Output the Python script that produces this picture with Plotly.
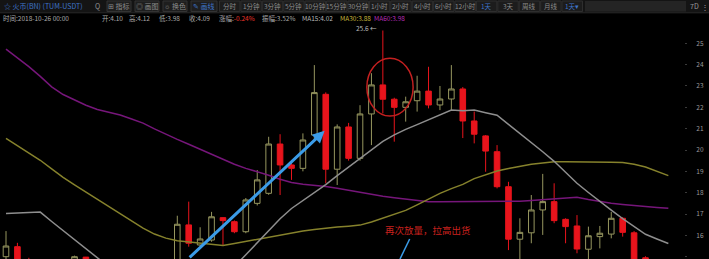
import plotly.graph_objects as go

# ---------------- data ----------------
idx = list(range(59))
opens = [15.0, 15.47, 14.6, 14.3, 14.0, 13.9, 14.1, 14.98, 14.3, 13.9,
         13.6, 13.8, 14.1, 13.9, 14.2, 14.5, 16.49, 15.55, 15.78, 16.83,
         16.64, 16.17, 17.5, 17.97, 20.28, 19.3, 19.14, 20.7, 22.61, 19.1,
         21.08, 19.61, 21.69, 23.05, 22.38, 22.0, 22.31, 22.76, 22.11, 22.39,
         22.86, 21.36, 20.66, 19.92, 18.28, 15.82, 16.12, 17.19, 17.58, 16.75,
         16.44, 15.35, 15.94, 16.06, 16.8, 16.12, 14.95, 14.4, 14.1]
highs = [16.2, 15.65, 14.95, 14.6, 14.4, 14.3, 15.05, 14.99, 14.6, 14.2,
         14.0, 14.3, 14.5, 14.4, 14.7, 16.92, 17.58, 16.38, 17.1, 16.85,
         16.7, 17.75, 19.06, 20.62, 20.74, 19.53, 20.78, 23.98, 22.7, 21.2,
         21.27, 22.1, 23.6, 25.6, 22.45, 22.5, 23.48, 23.9, 23.0, 23.98,
         22.95, 21.8, 20.7, 20.23, 18.51, 16.8, 17.89, 18.88, 18.44, 16.8,
         16.95, 16.41, 16.44, 17.1, 16.85, 16.2, 15.02, 14.8, 14.5]
lows = [14.7, 14.2, 14.1, 13.8, 13.6, 13.5, 14.0, 14.2, 13.7, 13.4,
        13.2, 13.5, 13.7, 13.6, 14.0, 14.3, 15.47, 15.5, 15.7, 15.55,
        16.1, 16.1, 17.4, 17.9, 17.89, 18.6, 19.0, 20.5, 18.44, 18.36,
        19.5, 19.5, 20.23, 21.72, 20.39, 21.33, 21.8, 21.95, 21.87, 21.87,
        20.56, 20.31, 18.98, 18.2, 15.31, 14.6, 15.63, 16.02, 16.57, 15.63,
        15.16, 14.7, 15.39, 15.86, 15.94, 14.3, 14.2, 13.9, 13.7]
closes = [15.5, 14.4, 14.3, 14.0, 13.9, 14.1, 15.0, 14.3, 13.9, 13.6,
          13.8, 14.1, 13.9, 14.2, 14.5, 16.52, 15.63, 15.83, 16.87, 16.69,
          16.17, 17.66, 18.6, 20.28, 19.3, 19.14, 20.47, 22.69, 19.1, 21.08,
          19.61, 21.69, 23.05, 22.38, 22.0, 22.26, 22.76, 22.11, 22.39, 22.86,
          21.36, 20.74, 19.95, 18.28, 15.82, 16.14, 17.19, 17.58, 16.69, 16.41,
          15.36, 15.98, 16.1, 16.8, 16.14, 14.6, 14.4, 14.1, 14.3]

ma15 = [17.03, 17.05, 17.07, 17.09, 16.65, 16.22, 15.78, 15.35, 14.92, 14.5,
        14.1, 13.8, 13.6, 13.45, 13.4, 13.4, 13.5, 13.7, 13.95, 14.2,
        14.54, 15.09, 15.66, 16.22, 16.78, 17.26, 17.63, 18.0, 18.38, 18.8,
        19.2, 19.58, 20.0, 20.4, 20.71, 20.97, 21.19, 21.42, 21.66, 21.87,
        21.84, 21.87, 21.75, 21.63, 21.2, 20.78, 20.35, 19.92, 19.47, 18.94,
        18.44, 18.01, 17.58, 17.18, 16.78, 16.41, 16.05, 15.83, 15.62]
ma30 = [20.55, 20.21, 19.86, 19.52, 19.12, 18.72, 18.37, 18.03, 17.69, 17.36,
        17.03, 16.68, 16.34, 16.06, 15.87, 15.75, 15.69, 15.63, 15.55, 15.52,
        15.62, 15.72, 15.8, 15.91, 16.03, 16.13, 16.2, 16.27, 16.34, 16.39,
        16.43, 16.48, 16.63, 16.81, 16.98, 17.17, 17.43, 17.7, 17.97, 18.19,
        18.39, 18.66, 18.85, 19.02, 19.13, 19.24, 19.33, 19.39, 19.45, 19.45,
        19.45, 19.45, 19.45, 19.43, 19.41, 19.33, 19.2, 19.0, 18.8]
ma60 = [24.73, 24.32, 23.91, 23.45, 22.96, 22.6, 22.34, 22.1, 21.9, 21.77,
        21.64, 21.45, 21.26, 20.99, 20.73, 20.5, 20.27, 20.04, 19.8, 19.56,
        19.33, 19.14, 18.99, 18.82, 18.63, 18.48, 18.39, 18.35, 18.29, 18.21,
        18.11, 18.0, 17.91, 17.83, 17.76, 17.69, 17.64, 17.58, 17.58, 17.58,
        17.58, 17.58, 17.58, 17.58, 17.58, 17.6, 17.63, 17.66, 17.7, 17.74,
        17.78, 17.68, 17.58, 17.51, 17.45, 17.39, 17.35, 17.31, 17.27]

y_ticks = [15, 16, 17, 18, 19, 20, 21, 22, 23, 24, 25]

toolbar_tools = ["Q", "⊞ 指标", "◎ 画图", "☼ 换色", "✎ 画线"]
periods = ["分时", "1分钟", "3分钟", "5分钟", "10分钟", "15分钟", "30分钟", "1小时",
           "2小时", "4小时", "6小时", "12小时", "1天", "3天", "周线", "月线", "1天▾"]
selected_periods = ["1天", "1天▾"]

info_items = [
    ("时间:2018-10-26 00:00", "#a8a8a8"),
    ("开:4.10", "#a8a8a8"),
    ("高:4.12", "#a8a8a8"),
    ("低:3.98", "#a8a8a8"),
    ("收:4.09", "#a8a8a8"),
    ("涨幅:<span style='color:#e8342a'>-0.24%</span>", "#a8a8a8"),
    ("振幅:3.52%", "#a8a8a8"),
    ("MA15:4.02", "#b8b8b8"),
    ("MA30:3.88", "#c8b43a"),
    ("MA60:3.98", "#b62cb6"),
]
info_x = [1, 100, 127, 157, 187, 217, 260, 300, 338, 372]

# ---------------- layout helpers ----------------
W, H = 709, 259
ML, MR, MT, MB = 0, 25, 24, 0
PW, PH = W - ML - MR, H - MT - MB
FONT = "Noto Sans CJK SC, Noto Sans, sans-serif"


def px(xp):
    return (xp - ML) / PW


def py(yp):
    return (H - MB - yp) / PH


fig = go.Figure()

fig.add_trace(go.Candlestick(
    x=idx, open=opens, high=highs, low=lows, close=closes,
    increasing=dict(line=dict(color="#96965f", width=1), fillcolor="#000000"),
    decreasing=dict(line=dict(color="#e8141c", width=1), fillcolor="#e8141c"),
    whiskerwidth=0, hoverinfo="skip", showlegend=False,
))

for vals, col in [(ma60, "#76167a"), (ma30, "#86822c"), (ma15, "#8e8e8e")]:
    fig.add_trace(go.Scatter(x=idx, y=vals, mode="lines",
                             line=dict(color=col, width=1.5),
                             hoverinfo="skip", showlegend=False))

shapes = []
annotations = []

# toolbar background
shapes.append(dict(type="rect", xref="paper", yref="paper",
                   x0=px(0), x1=px(W), y0=py(12.5), y1=py(0),
                   fillcolor="#141414", line=dict(width=0), layer="above"))
shapes.append(dict(type="line", xref="paper", yref="paper",
                   x0=px(0), x1=px(W), y0=py(12.8), y1=py(12.8),
                   line=dict(color="#2a2a2a", width=1), layer="above"))

annotations.append(dict(xref="paper", yref="paper", x=px(2), y=py(6),
                        xanchor="left", yanchor="middle", showarrow=False,
                        text="☆ 火币(BN) (TUM-USDT)",
                        font=dict(family=FONT, size=7, color="#3f74c8")))
tool_x = [(93, 102), (107, 131), (135, 159), (163, 187), (191, 217)]
for (a, b), t in zip(tool_x, toolbar_tools):
    if t != "Q":
        shapes.append(dict(type="rect", xref="paper", yref="paper",
                           x0=px(a), x1=px(b), y0=py(11.5), y1=py(1),
                           fillcolor="#1e1e1e", line=dict(color="#333333", width=1),
                           layer="above"))
    col = "#3f74c8" if t.startswith("✎") else "#8c8c8c"
    annotations.append(dict(xref="paper", yref="paper", x=px((a + b) / 2), y=py(6.2),
                            xanchor="center", yanchor="middle", showarrow=False,
                            text=t, font=dict(family=FONT, size=7, color=col)))

p0, p1 = 219, 583
step = (p1 - p0) / len(periods)
for k, t in enumerate(periods):
    a = p0 + k * step
    shapes.append(dict(type="rect", xref="paper", yref="paper",
                       x0=px(a + 0.5), x1=px(a + step - 0.5), y0=py(11.5), y1=py(1),
                       fillcolor="#1c1c1c", line=dict(color="#2e2e2e", width=1),
                       layer="above"))
    col = "#3f74c8" if t in selected_periods else "#8c8c8c"
    annotations.append(dict(xref="paper", yref="paper", x=px(a + step / 2), y=py(6.2),
                            xanchor="center", yanchor="middle", showarrow=False,
                            text=t, font=dict(family=FONT, size=6.5, color=col)))

shapes.append(dict(type="rect", xref="paper", yref="paper",
                   x0=px(585), x1=px(686), y0=py(11.5), y1=py(1),
                   fillcolor="#242424", line=dict(width=0), layer="above"))
annotations.append(dict(xref="paper", yref="paper", x=px(694), y=py(6.2),
                        xanchor="center", yanchor="middle", showarrow=False,
                        text="7D", font=dict(family=FONT, size=7, color="#9a9a9a")))
annotations.append(dict(xref="paper", yref="paper", x=px(705), y=py(6.2),
                        xanchor="center", yanchor="middle", showarrow=False,
                        text="⋮", font=dict(family=FONT, size=8, color="#9a9a9a")))

for xl, (t, col) in zip(info_x, info_items):
    annotations.append(dict(xref="paper", yref="paper", x=px(xl), y=py(17.8),
                            xanchor="left", yanchor="middle", showarrow=False,
                            text=t, font=dict(family=FONT, size=6.5, color=col)))

# chart annotations (data coordinates)
shapes.append(dict(type="circle", xref="x", yref="y",
                   x0=31.6, x1=35.65, y0=21.59, y1=24.3,
                   line=dict(color="#c42020", width=1.5)))
annotations.append(dict(x=27.9, y=20.9, ax=15.95, ay=14.9, xref="x", yref="y",
                        axref="x", ayref="y", text="", showarrow=True,
                        arrowhead=2, arrowsize=0.8, arrowwidth=3, arrowcolor="#3b9ce8"))
shapes.append(dict(type="line", xref="x", yref="y", x0=34.5, y0=14.89,
                   x1=35.35, y1=15.83, line=dict(color="#3b9ce8", width=1.5)))
annotations.append(dict(x=36.95, y=16.25, xref="x", yref="y", showarrow=False,
                        text="再次放量，拉高出货",
                        font=dict(family=FONT, size=9.5, color="#c8201e")))
annotations.append(dict(x=32.7, y=25.73, xref="x", yref="y", showarrow=False,
                        xanchor="right", yanchor="middle", text="25.6 ←",
                        font=dict(family=FONT, size=6.5, color="#bbbbbb")))

fig.update_layout(
    width=W, height=H, margin=dict(l=ML, r=MR, t=MT, b=MB),
    paper_bgcolor="#000000", plot_bgcolor="#000000",
    shapes=shapes, annotations=annotations, showlegend=False,
    xaxis=dict(range=[-0.525, 59.37], visible=False, rangeslider=dict(visible=False),
               fixedrange=True),
    yaxis=dict(range=[14.892, 25.905], side="right", tickvals=y_ticks,
               ticktext=[str(v) for v in y_ticks], showgrid=False, zeroline=False,
               showline=False, ticks="outside", ticklen=2, tickcolor="#3a3a3a",
               ticklabelstandoff=8,
               tickfont=dict(family=FONT, size=6.5, color="#9a9a9a"), fixedrange=True),
    hovermode=False,
)

fig.write_html("out.html")
